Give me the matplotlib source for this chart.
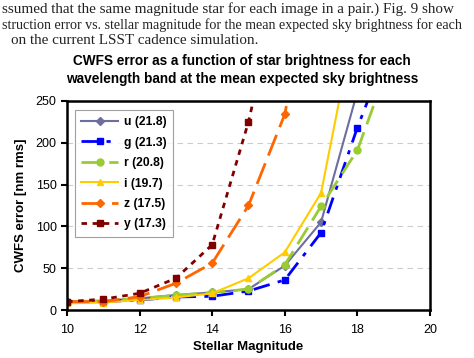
import matplotlib
matplotlib.use("Agg")
import matplotlib.pyplot as plt

plt.rcParams['font.family'] = ['Liberation Sans', 'DejaVu Sans']

# stellar magnitude grid
mags = [10, 11, 12, 13, 14, 15, 16, 17, 18, 19]

# CWFS error [nm rms] per band (values above 250 run off the top of the plot)
u_err = [10, 11, 14, 18, 21, 25, 53, 105, 261]
g_err = [10, 10, 12, 15.6, 16.4, 22.7, 36, 92.5, 218, 330]
r_err = [10, 11, 14, 17.5, 21, 25, 54, 124, 191, 310]
i_err = [8, 9, 12, 15, 20, 38, 69, 140, 360]
z_err = [10, 10, 16, 32, 56, 125, 234, 460]
y_err = [10, 13, 20, 38, 78, 225, 415]

labels = ['u (21.8)', 'g (21.3)', 'r (20.8)', 'i (19.7)', 'z (17.5)', 'y (17.3)']

fig = plt.figure(figsize=(4.74, 3.58), dpi=100)

# visible part of the paper text above the figure
paper = dict(family='Liberation Serif', fontsize=10.9, color='#222222', va='center')
fig.text(0.004, 0.974, "ssumed that the same magnitude star for each image in a pair.) Fig. 9 show", **paper)
fig.text(0.004, 0.931, "struction error vs. stellar magnitude for the mean expected sky brightness for each",
         **dict(paper, fontsize=10.1))
fig.text(0.024, 0.887, "on the current LSST cadence simulation.", **paper)

fig.text(0.51, 0.805, "CWFS error as a function of star brightness for each\nwavelength band at the mean expected sky brightness",
         ha='center', va='center', fontsize=9.8, fontweight='bold', linespacing=1.4)

ax = fig.add_axes([0.1414, 0.134, 0.7656, 0.584])

ax.plot(mags[:len(u_err)], u_err, color='#6E6E9E', ls='-', lw=1.5, marker='D', ms=4, label=labels[0])
ax.plot(mags[:len(g_err)], g_err, color='#0000FF', ls=(0, (6, 3, 1.5, 3)), lw=2, marker='s', ms=5, label=labels[1])
ax.plot(mags[:len(r_err)], r_err, color='#99CC33', ls=(0, (7, 3)), lw=2, marker='o', ms=5, label=labels[2])
ax.plot(mags[:len(i_err)], i_err, color='#FFCC00', ls='-', lw=1.5, marker='^', ms=5, label=labels[3])
ax.plot(mags[:len(z_err)], z_err, color='#FF6600', ls=(0, (8, 3)), lw=2, marker='D', ms=4, label=labels[4])
ax.plot(mags[:len(y_err)], y_err, color='#800000', ls=(0, (2, 2)), lw=2, marker='s', ms=5, label=labels[5])

ax.set_xlim(10, 20)
ax.set_ylim(0, 250)
ax.set_xticks([10, 12, 14, 16, 18, 20])
ax.set_yticks([0, 50, 100, 150, 200, 250])
ax.yaxis.grid(True, ls=(0, (5, 4)), color='#CCCCCC', lw=0.8)
ax.set_axisbelow(True)
for s in ax.spines.values():
    s.set_linewidth(1.8)
ax.tick_params(labelsize=9, width=1.5, length=4)
ax.tick_params(axis='x', pad=6)

ax.set_xlabel('Stellar Magnitude', fontsize=9.5, fontweight='bold', labelpad=4)
ax.set_ylabel('CWFS error [nm rms]', fontsize=9.5, fontweight='bold', labelpad=6)

leg = ax.legend(loc='upper left', fontsize=8.7, frameon=True, fancybox=False,
                handlelength=3.1, handletextpad=0.5, borderpad=0.5, labelspacing=0.7,
                bbox_to_anchor=(0.005, 0.985))
leg.get_frame().set_edgecolor('#888888')
leg.get_frame().set_linewidth(0.8)
for t in leg.get_texts():
    t.set_fontweight('bold')

fig.savefig('out.png', dpi=100)
